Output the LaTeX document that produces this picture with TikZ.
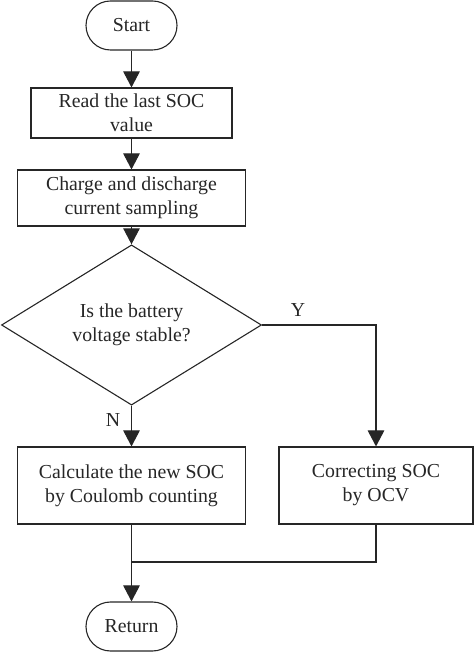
\documentclass[tikz,border=0pt]{standalone}
\usepackage{fontspec}
\setmainfont{Liberation Serif}
\usetikzlibrary{shapes.geometric, arrows.meta}

\begin{document}
\begin{tikzpicture}[x=1pt, y=1pt, line width=1.1pt, black!85,
    every node/.style={font=\fontsize{19.8}{24}\selectfont, align=center},
    startstop/.style={draw, rounded corners=24.5pt, minimum width=91pt, minimum height=49pt, inner sep=0pt},
    procbox/.style={draw, rectangle, inner sep=0pt},
    decide/.style={draw, diamond, minimum width=260pt, minimum height=122pt, inner sep=0pt},
    flowline/.style={-{Triangle[length=16pt, width=16.5pt]}}]
    \useasboundingbox (0, 0) rectangle (474, 652);

    % Start and the first two steps
    \node[startstop] (start) at (131.5, 626.5) {Start};
    \node[procbox, minimum width=201pt, minimum height=50pt] (read) at (131.5, 539) {Read the last SOC\\value};
    \node[procbox, minimum width=228pt, minimum height=56pt] (sample) at (131.5, 454) {Charge and discharge\\current sampling};

    % The test
    \node[decide] (stable) at (131.5, 327) {Is the battery\\voltage stable?};
    \node (yes) at (298, 342) {Y};
    \node (no) at (113, 232) {N};

    % The two branches
    \node[procbox, minimum width=228pt, minimum height=77pt] (coulomb) at (131.5, 166.5) {Calculate the new SOC\\by Coulomb counting};
    \node[procbox, minimum width=194pt, minimum height=77pt] (ocv) at (376, 166.5) {Correcting SOC\\by OCV};

    % End
    \coordinate (merge) at (131.5, 90);
    \node[startstop] (return) at (131.5, 25.5) {Return};

    % Connectors
    \draw[flowline] (start) -- (read);
    \draw[flowline] (read) -- (sample);
    \draw[flowline] (sample) -- (stable);
    \draw[flowline] (stable.south) -- (coulomb.north);
    \draw[flowline] (stable.east) -| (ocv.north);
    \draw (coulomb.south) -- (merge);
    \draw (ocv.south) |- (merge);
    \draw[flowline] (merge) -- (return.north);
\end{tikzpicture}
\end{document}
